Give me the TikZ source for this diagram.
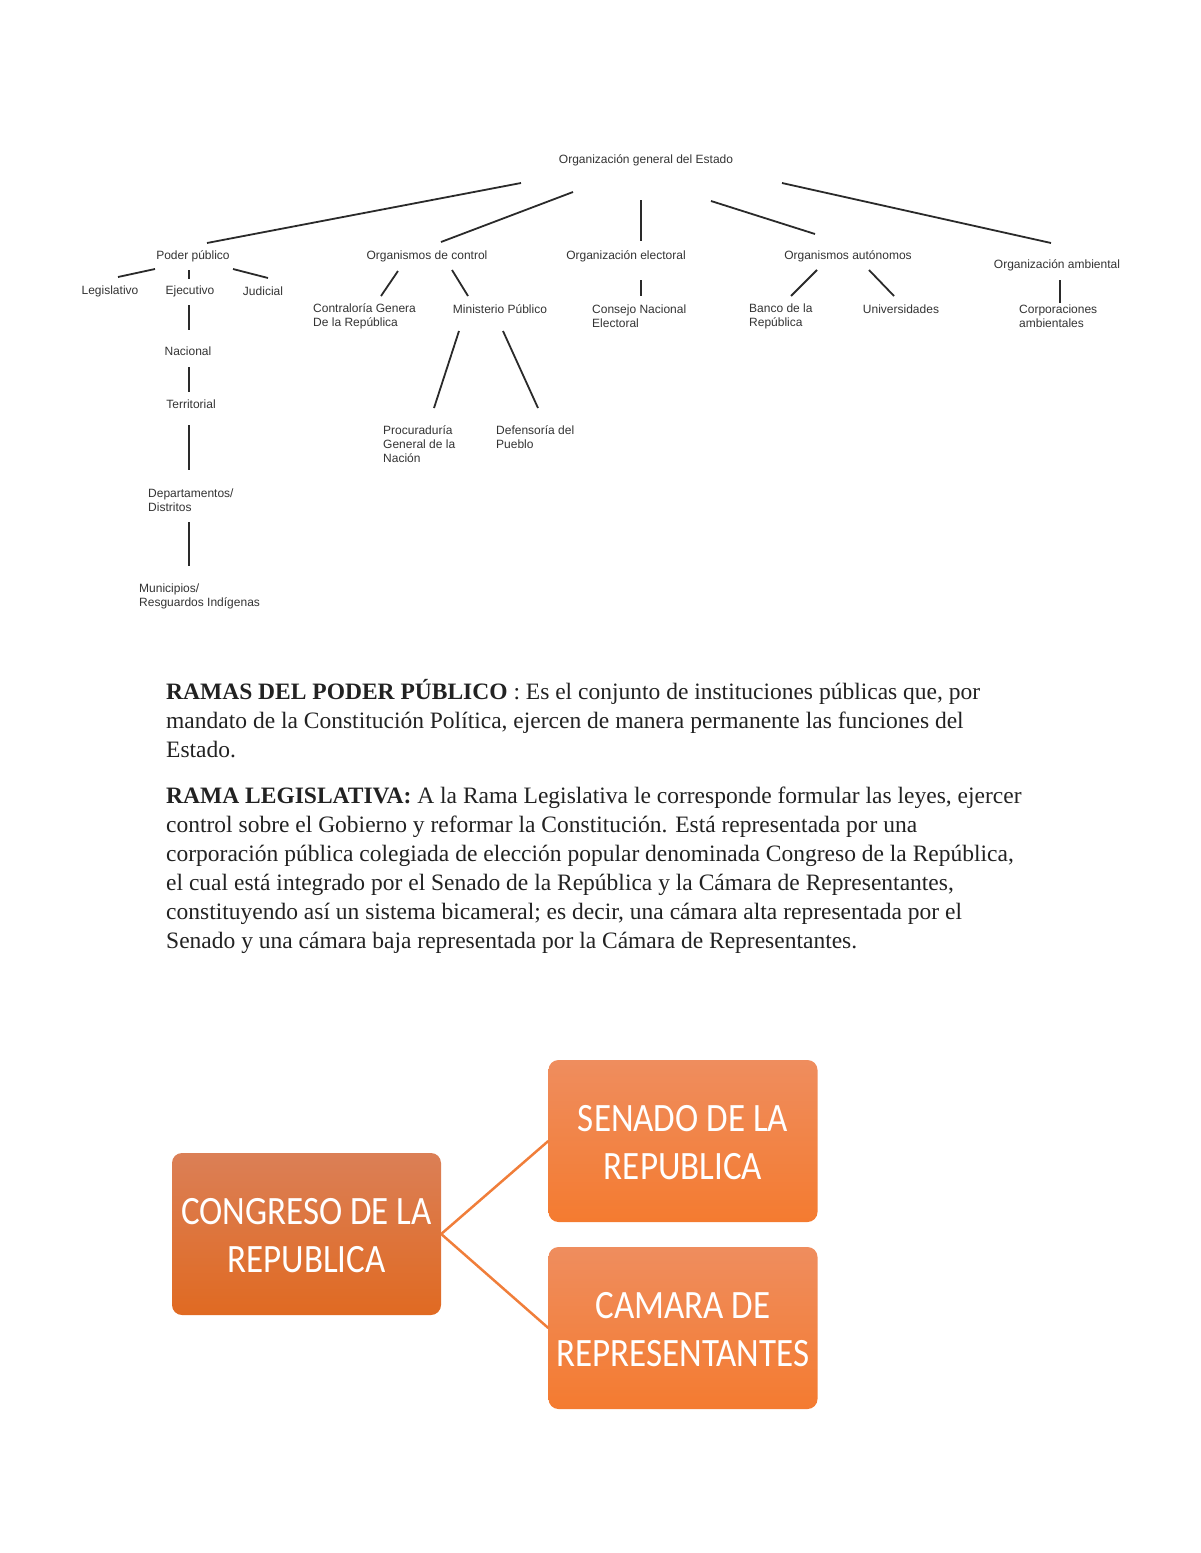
\documentclass[tikz,border=0pt]{standalone}
\usepackage{fontspec}
\setmainfont{Liberation Serif}
\newfontfamily\arialf{Liberation Sans}
\newfontfamily\calib{Carlito}
\definecolor{treetext}{HTML}{333333}
\definecolor{treeline}{HTML}{2A2A2A}
\definecolor{paratext}{HTML}{222222}
\definecolor{olinec}{HTML}{F07E3A}
\definecolor{congtop}{HTML}{DB7F56}
\definecolor{congbot}{HTML}{E06A22}
\definecolor{sentop}{HTML}{EF8D5E}
\definecolor{senbot}{HTML}{F47B30}
\newcommand\obtext[1]{\raisebox{-5pt}[\height][\depth]{\scalebox{1}[1.15]{\begin{tabular}{@{}c@{}}#1\end{tabular}}}}
\begin{document}
\begin{tikzpicture}[x=1pt,y=-1pt,
  tn/.style={font=\arialf\fontsize{12}{14}\selectfont, text=treetext, inner sep=0pt, align=left},
  tl/.style={draw=treeline, line width=1.8pt},
  para/.style={font=\fontsize{23.5}{29}\selectfont, anchor=base west, inner sep=0pt, text=paratext},
  obox/.style={rounded corners=10pt, minimum width=269pt, minimum height=162pt, text=white,
    font=\calib\fontsize{35}{41}\selectfont, align=center, inner sep=0pt},
  oline/.style={draw=olinec, line width=2.5pt}
]
\useasboundingbox (0,0) rectangle (1200,1553);

% ---------- tree ----------
\node[tn] (root) at (646,160) {Organización general del Estado};
\node[tn] (poder) at (193,256) {Poder público};
\node[tn] (control) at (427,256) {Organismos de control};
\node[tn] (elect) at (626,256) {Organización electoral};
\node[tn] (auto) at (848,256) {Organismos autónomos};
\node[tn] (amb) at (1057,265) {Organización ambiental};

\node[tn] (legis) at (110,291) {Legislativo};
\node[tn] (ejec) at (190,291) {Ejecutivo};
\node[tn] (jud) at (263,291) {Judicial};
\node[tn] (nac) at (188,351) {Nacional};
\node[tn] (terr) at (191,404) {Territorial};
\node[tn, anchor=west] (dep) at (148,500.5) {Departamentos/\\Distritos};
\node[tn, anchor=west] (mun) at (139,596.5) {Municipios/\\Resguardos Indígenas};

\node[tn, anchor=west] (contr) at (313,316) {Contraloría Genera\\De la República};
\node[tn] (min) at (500,309) {Ministerio Público};
\node[tn, anchor=west] (proc) at (383,444) {Procuraduría\\General de la\\Nación};
\node[tn, anchor=west] (def) at (496,437) {Defensoría del\\Pueblo};

\node[tn, anchor=west] (cne) at (592,316) {Consejo Nacional\\Electoral};
\node[tn, anchor=west] (banco) at (749,316) {Banco de la\\República};
\node[tn] (univ) at (901,309) {Universidades};
\node[tn, anchor=west] (corp) at (1019,316) {Corporaciones\\ambientales};

% connector end points
\coordinate (rp1) at (521,183); \coordinate (rp2) at (207,243);
\coordinate (rc1) at (573,192); \coordinate (rc2) at (441,242);
\coordinate (re1) at (641,200); \coordinate (re2) at (641,241);
\coordinate (ra1) at (711,201); \coordinate (ra2) at (815,234);
\coordinate (rm1) at (782,183); \coordinate (rm2) at (1051,243);
\coordinate (pl1) at (155,269); \coordinate (pl2) at (118,277);
\coordinate (pe1) at (189,270); \coordinate (pe2) at (189,279);
\coordinate (pj1) at (233,269); \coordinate (pj2) at (268,278);
\coordinate (en1) at (189,305); \coordinate (en2) at (189,330);
\coordinate (nt1) at (189,367); \coordinate (nt2) at (189,392);
\coordinate (td1) at (189,425); \coordinate (td2) at (189,470);
\coordinate (dm1) at (189,522); \coordinate (dm2) at (189,566);
\coordinate (cc1) at (398,271); \coordinate (cc2) at (381,296);
\coordinate (cm1) at (452,270); \coordinate (cm2) at (468,296);
\coordinate (mp1) at (459,331); \coordinate (mp2) at (434,408);
\coordinate (md1) at (503,331); \coordinate (md2) at (538,408);
\coordinate (ec1) at (641,280); \coordinate (ec2) at (641,296);
\coordinate (ab1) at (817,270); \coordinate (ab2) at (791,296);
\coordinate (au1) at (869,270); \coordinate (au2) at (894,296);
\coordinate (mc1) at (1060,280); \coordinate (mc2) at (1060,303);

\foreach \s in {rp,rc,re,ra,rm,pl,pe,pj,en,nt,td,dm,cc,cm,mp,md,ec,ab,au,mc}
  \draw[tl] (\s1) -- (\s2);

% ---------- paragraphs ----------
\node[para] (p1) at (166,699) {\textbf{RAMAS DEL PODER PÚBLICO} : Es el conjunto de instituciones públicas que, por};
\node[para] (p2) at (166,728) {mandato de la Constitución Política, ejercen de manera permanente las funciones del};
\node[para] (p3) at (166,757) {Estado.};
\node[para] (q1) at (166,803) {\textbf{RAMA LEGISLATIVA:} A la Rama Legislativa le corresponde formular las leyes, ejercer};
\node[para] (q2) at (166,832) {control sobre el Gobierno y reformar la Constitución. Está representada por una};
\node[para] (q3) at (166,861) {corporación pública colegiada de elección popular denominada Congreso de la República,};
\node[para] (q4) at (166,890) {el cual está integrado por el Senado de la República y la Cámara de Representantes,};
\node[para] (q5) at (166,919) {constituyendo así un sistema bicameral; es decir, una cámara alta representada por el};
\node[para] (q6) at (166,948) {Senado y una cámara baja representada por la Cámara de Representantes.};

% ---------- orange diagram ----------
\node[obox, top color=congtop, bottom color=congbot] (cong) at (306.5,1234) {\obtext{CONGRESO DE LA\\REPUBLICA}};
\node[obox, top color=sentop, bottom color=senbot] (sen) at (683,1141) {\obtext{SENADO DE LA\\REPUBLICA}};
\node[obox, top color=sentop, bottom color=senbot] (cam) at (683,1328) {\obtext{CAMARA DE\\REPRESENTANTES}};
\draw[oline] (cong.east) -- (sen.west);
\draw[oline] (cong.east) -- (cam.west);
\end{tikzpicture}
\end{document}
